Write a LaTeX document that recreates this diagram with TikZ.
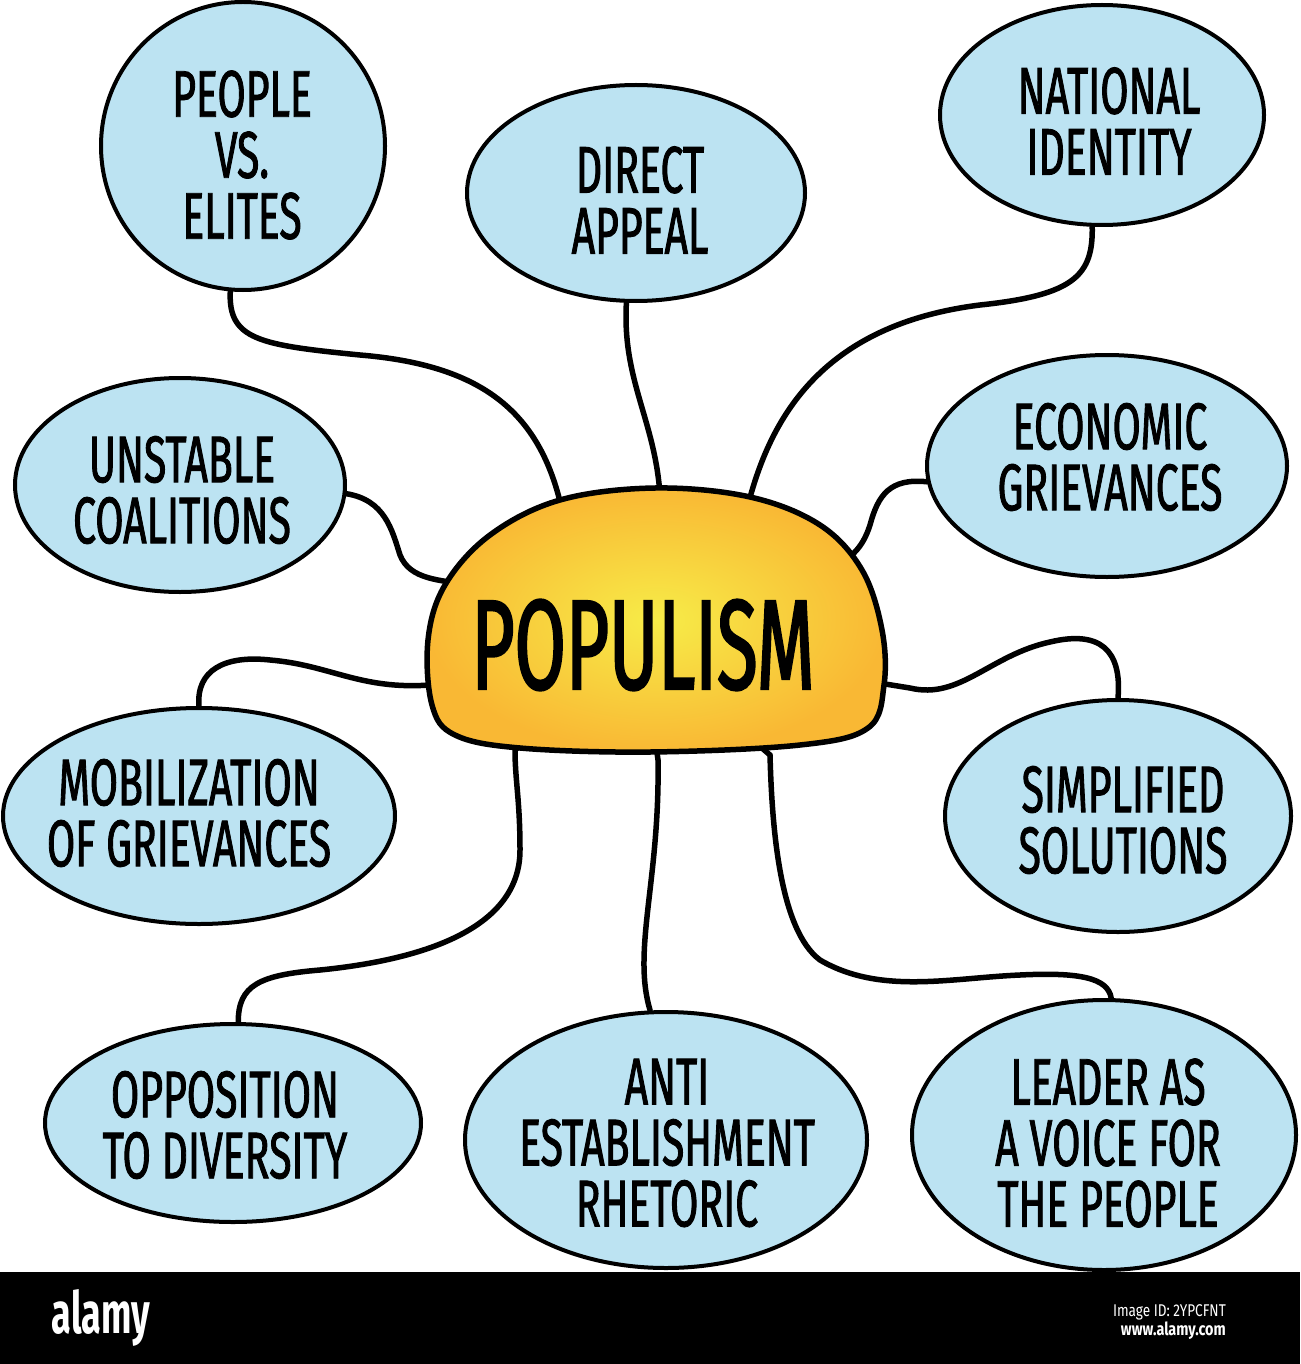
\documentclass[tikz,border=0pt]{standalone}
\usepackage{fontspec}
\newfontfamily\hand[FakeStretch=0.62, FakeBold=1.3]{Fira Sans}
\newfontfamily\bighand[FakeStretch=0.58, FakeBold=1.6]{Fira Sans}
\newfontfamily\wmfont[FakeStretch=0.8]{Fira Sans}
\newfontfamily\wmbig[FakeStretch=0.62]{Fira Sans}
\usetikzlibrary{shapes.geometric}
\pgfdeclarelayer{bg}
\pgfsetlayers{bg,main}
\definecolor{bubble}{RGB}{188,227,242}
\definecolor{popin}{RGB}{247,236,72}
\definecolor{popout}{RGB}{249,184,52}
\begin{document}
\begin{tikzpicture}[x=1pt,y=-1pt,
  bub/.style={ellipse, draw=black, line width=4pt, fill=bubble, inner sep=0pt},
  lbl/.style={font=\hand\fontsize{66}{61}\selectfont, align=center, inner sep=0pt, text=black},
  conn/.style={draw=black, line width=5.5pt, line cap=round}]
\useasboundingbox (0,0) rectangle (1300,1364);
\begin{pgfonlayer}{bg}
\fill[white] (0,0) rectangle (1300,1364);
\end{pgfonlayer}
% bottom band
\fill[black] (0,1272) rectangle (1300,1364);
\node[font=\wmbig\bfseries\fontsize{58}{58}\selectfont, text=white, inner sep=0pt] (alamy) at (101,1318) {alamy};
\node[font=\wmfont\fontsize{17}{17}\selectfont, text=white, inner sep=0pt, anchor=east] (imgid) at (1226,1312) {Image ID: 2YPCFNT};
\node[font=\wmfont\bfseries\fontsize{18}{18}\selectfont, text=white, inner sep=0pt, anchor=east] (www) at (1226,1331) {www.alamy.com};

% bubbles
\node[bub, minimum width=284pt, minimum height=288pt] (n1) at (243,146) {};
\node[bub, minimum width=338pt, minimum height=216pt] (n2) at (636,193) {};
\node[bub, minimum width=324pt, minimum height=220pt] (n3) at (1102,115) {};
\node[bub, minimum width=330pt, minimum height=214pt] (n4) at (180,485) {};
\node[bub, minimum width=360pt, minimum height=222pt] (n5) at (1107,466) {};
\node[bub, minimum width=392pt, minimum height=216pt] (n6) at (199,816) {};
\node[bub, minimum width=346pt, minimum height=232pt] (n7) at (1118,816) {};
\node[bub, minimum width=376pt, minimum height=198pt] (n8) at (233,1123) {};
\node[bub, minimum width=402pt, minimum height=256pt] (n9) at (666,1140) {};
\node[bub, minimum width=384pt, minimum height=270pt] (n10) at (1104,1135) {};

\node[lbl] (t1) at (242,155) {PEOPLE\\VS.\\ELITES};
\node[lbl] (t2) at (640,200) {DIRECT\\APPEAL};
\node[lbl] (t3) at (1109,121) {NATIONAL\\IDENTITY};
\node[lbl] (t4) at (182,490) {UNSTABLE\\COALITIONS};
\node[lbl] (t5) at (1110,457) {ECONOMIC\\GRIEVANCES};
\node[lbl] (t6) at (189,813) {MOBILIZATION\\OF GRIEVANCES};
\node[lbl] (t7) at (1123,820) {SIMPLIFIED\\SOLUTIONS};
\node[lbl] (t8) at (225,1125) {OPPOSITION\\TO DIVERSITY};
\node[lbl] (t9) at (667,1143) {ANTI\\ESTABLISHMENT\\RHETORIC};
\node[lbl] (t10) at (1108,1143) {LEADER AS\\A VOICE FOR\\THE PEOPLE};

% central blob
\shadedraw[line width=5.5pt, inner color=popin, outer color=popout]
  plot[smooth cycle, tension=0.6] coordinates {(432,705) (428,640) (445,585) (490,535) (560,500) (655,488) (750,497) (820,525) (862,570) (882,630) (884,685) (868,728) (800,745) (650,752) (520,748) (455,735)};
\node[font=\bighand\fontsize{128}{128}\selectfont, inner sep=0pt] (pop) at (643,645) {POPULISM};

% connectors
\begin{pgfonlayer}{bg}
\draw[conn] (n1.265) .. controls (228,340) and (260,345) .. (360,355) .. controls (480,365) and (540,410) .. (562,510) -- (pop.center);
\draw[conn] (n2.265) .. controls (622,380) and (655,420) .. (660,495) -- (pop.center);
\draw[conn] (n3.265) .. controls (1093,275) and (1075,295) .. (980,305) .. controls (820,325) and (770,420) .. (748,505) -- (pop.center);
\draw[conn] (n4.-3) .. controls (385,500) and (392,530) .. (400,555) .. controls (410,580) and (440,580) .. (470,585) -- (pop.center);
\draw[conn] (n5.185) .. controls (890,478) and (878,495) .. (870,525) .. controls (862,550) and (850,558) .. (830,570) -- (pop.center);
\draw[conn] (n6.north) .. controls (196,670) and (225,655) .. (270,660) .. controls (330,665) and (360,690) .. (430,685) -- (pop.center);
\draw[conn] (n7.north) .. controls (1122,650) and (1100,630) .. (1050,642) .. controls (990,655) and (960,700) .. (910,688) -- (pop.center);
\draw[conn] (n8.87) .. controls (238,985) and (260,975) .. (320,970) .. controls (420,960) and (520,930) .. (520,850) .. controls (520,800) and (515,780) .. (515,750) -- (pop.center);
\draw[conn] (n9.97) .. controls (632,950) and (660,880) .. (658,760) -- (pop.center);
\draw[conn] (n10.87) .. controls (1108,978) and (1080,972) .. (1020,975) .. controls (950,978) and (880,995) .. (820,960) .. controls (780,930) and (772,830) .. (770,755) -- (pop.center);
\end{pgfonlayer}
\end{tikzpicture}
\end{document}
